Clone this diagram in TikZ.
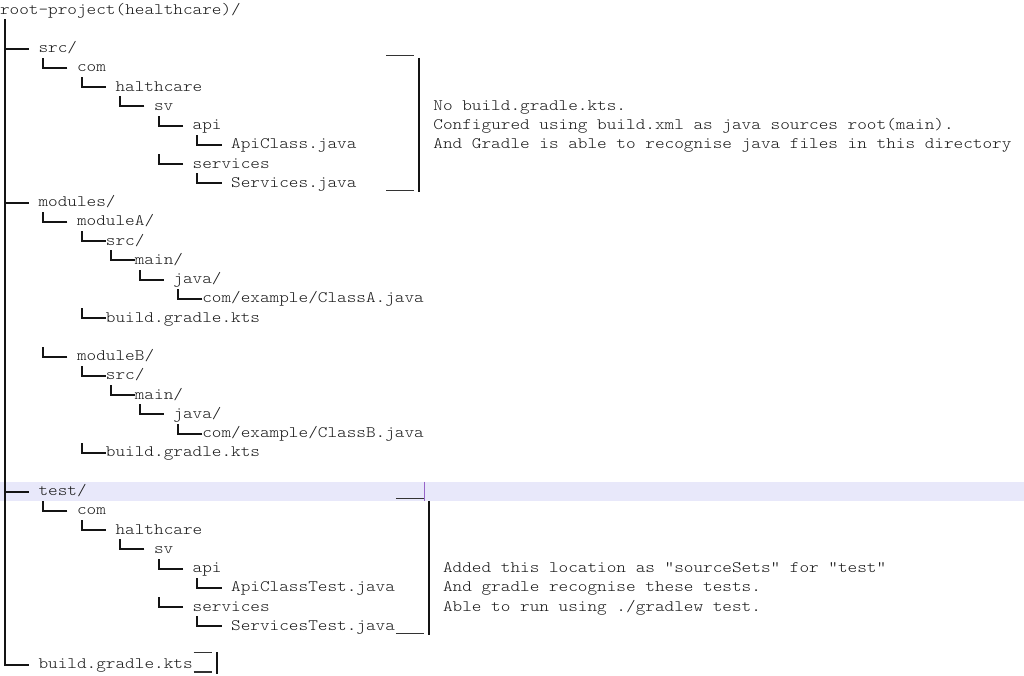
\documentclass[tikz,border=0pt]{standalone}
\usepackage{fontspec}
\newfontfamily\mono{lmmonolt10-regular.otf}[FakeStretch=1.147]
\def\cw{9.632}
\def\lh{19.26}
\newcommand\tn[4]{\node[txt] (#1) at ({#3*\cw},{14+#2*\lh}) {#4};}
% spaced elbow: "└── name"
\newcommand\elS[1]{\draw[tree] ([shift={(-\cw,-4)}]#1.base west) -- ++({-2.5*\cw},0) -- ++(0,-10);}
% tight elbow: "└──name"
\newcommand\elT[1]{\draw[tree] ([shift={(0,-4)}]#1.base west) -- ++({-2.5*\cw},0) -- ++(0,-10);}
\begin{document}
\begin{tikzpicture}[x=0.75pt,y=-0.75pt,
  txt/.style={anchor=base west,inner sep=0pt,outer sep=0pt,text=black!90,
    font=\mono\fontsize{12pt}{14.45pt}\selectfont},
  tree/.style={draw=black!92,line width=1.5pt},
  bar/.style={draw=black!92,line width=1.4pt},
  under/.style={draw=black!80,line width=1pt}]
\useasboundingbox (0,0) rectangle (1024,675);
\fill[white] (0,0) rectangle (1024,675);
% current-line highlight
\fill[fill={rgb,255:red,232;green,232;blue,250}] (0,481.5) rectangle (1024,500.76);

% texts
\tn{root}{0}{0}{root-project(healthcare)/}
\tn{src}{2}{4}{src/}
\tn{scom}{3}{8}{com}
\tn{shc}{4}{12}{halthcare}
\tn{ssv}{5}{16}{sv}
\tn{sapi}{6}{20}{api}
\tn{sapic}{7}{24}{ApiClass.java}
\tn{ssvc}{8}{20}{services}
\tn{ssvcj}{9}{24}{Services.java}
\tn{mods}{10}{4}{modules/}
\tn{ma}{11}{8}{moduleA/}
\tn{masrc}{12}{11}{src/}
\tn{mamain}{13}{14}{main/}
\tn{majava}{14}{18}{java/}
\tn{macls}{15}{21}{com/example/ClassA.java}
\tn{mabg}{16}{11}{build.gradle.kts}
\tn{mb}{18}{8}{moduleB/}
\tn{mbsrc}{19}{11}{src/}
\tn{mbmain}{20}{14}{main/}
\tn{mbjava}{21}{18}{java/}
\tn{mbcls}{22}{21}{com/example/ClassB.java}
\tn{mbbg}{23}{11}{build.gradle.kts}
\tn{test}{25}{4}{test/}
\tn{tcom}{26}{8}{com}
\tn{thc}{27}{12}{halthcare}
\tn{tsv}{28}{16}{sv}
\tn{tapi}{29}{20}{api}
\tn{tapic}{30}{24}{ApiClassTest.java}
\tn{tsvc}{31}{20}{services}
\tn{tsvcj}{32}{24}{ServicesTest.java}
\tn{bgk}{34}{4}{build.gradle.kts}
\tn{n1}{5}{45}{No build.gradle.kts.}
\tn{n2}{6}{45}{Configured using build.xml as java sources root(main).}
\tn{n3}{7}{45}{And Gradle is able to recognise java files in this directory}
\tn{a1}{29}{46}{Added this location as "sourceSets" for "test"}
\tn{a2}{30}{46}{And gradle recognise these tests.}
\tn{a3}{31}{46}{Able to run using ./gradlew test.}

% root trunk and branches
\coordinate (rt) at ([shift={({0.5*\cw},5.26)}]root.base west);
\draw[tree] (rt) |- ([shift={(-\cw,-4)}]bgk.base west);
\draw[tree] ([shift={(-\cw,-4)}]src.base west) -- ++({-2.5*\cw},0);
\draw[tree] ([shift={(-\cw,-4)}]mods.base west) -- ++({-2.5*\cw},0);
\draw[tree] ([shift={(-\cw,-4)}]test.base west) -- ++({-2.5*\cw},0);

% src subtree
\elS{scom}\elS{shc}\elS{ssv}\elS{sapi}\elS{sapic}\elS{ssvc}\elS{ssvcj}
% modules subtree
\elS{ma}\elT{masrc}\elT{mamain}\elS{majava}\elT{macls}\elT{mabg}
\elS{mb}\elT{mbsrc}\elT{mbmain}\elS{mbjava}\elT{mbcls}\elT{mbbg}
% test subtree
\elS{tcom}\elS{thc}\elS{tsv}\elS{tapi}\elS{tapic}\elS{tsvc}\elS{tsvcj}

% bracket beside src
\draw[under] ({40*\cw+1},55.3) -- ({43*\cw},55.3);
\draw[bar] ({43.5*\cw},57.8) -- ({43.5*\cw},192);
\draw[under] ({40*\cw+1},190.6) -- ({43*\cw},190.6);

% bracket beside test
\draw[under] ({41*\cw+1},498.8) -- ({44*\cw},498.8);
\draw[draw={rgb,255:red,150;green,100;blue,200},line width=0.9pt] ({44*\cw+0.8},481.5) -- ({44*\cw+0.8},500.76);
\draw[bar] ({44.5*\cw},500.8) -- ({44.5*\cw},634.8);
\draw[under] ({41*\cw+1},633.5) -- ({44*\cw},633.5);

% marks by the last build.gradle.kts
\draw[under] ({20*\cw+1},652.8) -- ({22*\cw},652.8);
\draw[under] ({20*\cw+1},672) -- ({22*\cw},672);
\draw[bar] ({22.5*\cw},652) -- ({22.5*\cw},673.5);
\end{tikzpicture}
\end{document}
